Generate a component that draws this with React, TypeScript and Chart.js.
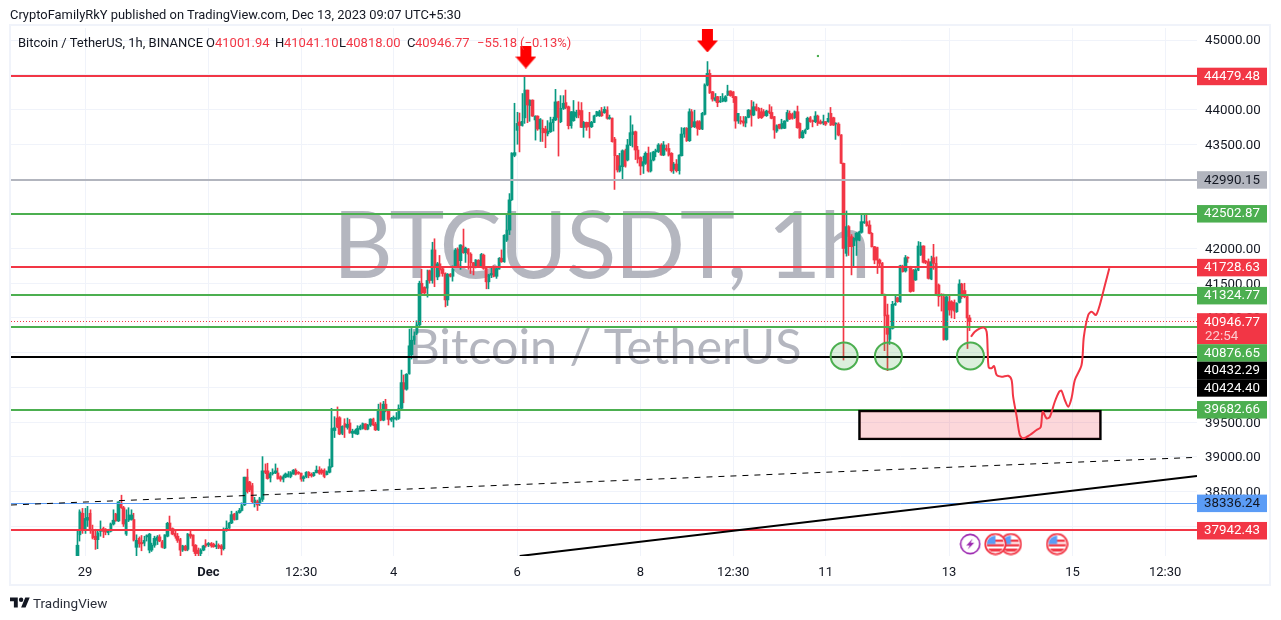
import { useEffect, useRef } from "react";
import { Chart, registerables } from "chart.js";

Chart.register(...registerables);

// bar index 0 is 29 Nov 00:00, one bar per hour
const firstBar = -3;
const UP = "#089981";
const DOWN = "#f23645";

// [open, high, low, close]
const candlesNov: number[][] = [
  [37580,37950,37560,37730],[37880,38240,37790,38210],[38190,38260,37900,37950],[37950,38260,37900,38115],
  [38090,38290,38000,38130],[38190,38240,37900,37950],[37950,38020,37820,37840],[37860,37960,37670,37810],
  [37810,37950,37680,37910],[37930,38080,37860,37950],[37970,37990,37840,37930],[37960,37970,37880,37920],
  [37910,37960,37880,37950],[37930,38050,37920,38035],[38035,38240,38020,38090],[38180,38190,38075,38080],
  [38080,38355,38070,38355],[38320,38450,38260,38270],[38270,38290,38000,38035],[37890,38240,37870,38100],
  [38090,38270,38070,38165],[38100,38240,38090,38165],[38100,38190,37790,37805],[37700,37880,37575,37800],
  [37830,37850,37700,37750],[37770,37870,37650,37750],[37760,37860,37720,37800],[37850,37880,37790,37870],
  [37660,37900,37620,37890],[37660,37760,37640,37730],[37730,37860,37700,37830],[37800,37870,37740,37850],
  [37850,37880,37780,37790],[37780,37800,37690,37700],[37690,37880,37680,37880],[37860,38060,37850,38045],
  [38050,38150,37950,37960],[37970,37980,37880,37890],[37900,37940,37830,37860],[37860,37900,37770,37800],
  [37810,37830,37560,37660],[37660,37730,37640,37720],[37715,37730,37650,37660],[37670,37900,37650,37890],
  [37890,37950,37830,37860],[37875,37880,37640,37720],[37730,37740,37570,37610],[37660,37690,37570,37610],
  [37610,37680,37570,37660],[37660,37730,37650,37720],[37750,37810,37700,37720],
];
const candlesDec1: number[][] = [
  [37735,37770,37710,37755],[37755,37770,37700,37720],[37745,37760,37700,37710],[37710,37790,37680,37730],
  [37730,37750,37680,37700],[37720,37740,37590,37680],[37680,37980,37660,37950],[37950,38080,37930,37975],
  [37980,38060,37970,38050],[38050,38220,38040,38170],[38180,38190,38090,38100],[38100,38220,38095,38200],
  [38200,38260,38190,38230],[38230,38340,38220,38300],[38310,38710,38300,38710],[38710,38825,38480,38500],
  [38640,38650,38500,38525],[38587,38620,38340,38357],[38330,38420,38280,38380],[38357,38380,38230,38310],
  [38330,38420,38300,38400],[38390,39005,38360,38800],[38800,38900,38760,38780],[38800,38910,38680,38690],
  [38700,38780,38640,38760],[38760,38830,38740,38775],[38770,38900,38760,38800],[38770,38840,38680,38690],
  [38715,38730,38650,38680],[38680,38740,38640,38715],[38710,38770,38700,38755],[38715,38790,38710,38755],
  [38720,38790,38700,38775],[38755,38820,38750,38810],[38810,38830,38740,38750],[38775,38790,38750,38765],
  [38765,38770,38650,38680],[38690,38730,38650,38715],[38715,38790,38700,38780],[38780,38790,38700,38730],
  [38750,38770,38710,38730],[38730,38780,38720,38775],[38775,38870,38770,38810],[38810,38860,38750,38765],
  [38810,38830,38750,38770],[38810,38830,38700,38720],[38745,38800,38740,38790],[38780,38970,38770,38860],
  [38860,39700,38850,39410],[39380,39580,39280,39420],[39560,39720,39420,39430],[39565,39580,39320,39330],
  [39340,39450,39320,39440],[39480,39550,39280,39430],[39425,39560,39400,39470],[39490,39540,39340,39350],
  [39340,39400,39280,39370],[39340,39400,39330,39380],[39330,39450,39320,39410],[39400,39460,39390,39440],
  [39410,39490,39400,39480],[39475,39480,39390,39400],[39400,39470,39390,39460],[39460,39550,39440,39545],
  [39545,39560,39450,39460],[39475,39500,39380,39390],[39390,39760,39380,39665],[39665,39780,39520,39530],
  [39530,39800,39520,39760],[39760,39830,39650,39665],[39665,39680,39460,39540],[39530,39570,39510,39555],
];
const candlesDec4: number[][] = [
  [39545,39590,39430,39565],[39545,39640,39530,39565],[39555,39750,39540,39700],[39700,40250,39690,40070],
  [40070,40180,39780,39975],[39975,40200,39960,40190],[40200,40840,40190,40600],[40470,40850,40410,40680],
  [40680,40800,40620,40740],[40780,40960,40760,40900],[40900,41530,40880,41500],[41500,41700,41350,41360],
  [41440,41450,41340,41360],[41430,41690,41300,41540],[41680,41690,41500,41540],[41540,42090,41500,41980],
  [41980,42140,41450,41740],[41590,41800,41550,41780],[41780,41900,41600,41690],[41710,41720,41600,41640],
  [41640,41650,41160,41260],[41260,41640,41180,41630],[41630,41640,41590,41600],[41600,41750,41530,41700],
  [41740,42000,41730,41980],[41990,42010,41730,41740],[41825,42055,41700,42050],[42035,42280,41930,41940],
  [41940,42020,41800,42005],[41990,42000,41700,41920],[41920,41940,41640,41795],[41795,41800,41620,41740],
  [41740,41840,41720,41835],[41830,41840,41725,41735],[41750,41930,41740,41915],[41905,41920,41700,41715],
  [41715,41725,41420,41520],[41520,41630,41420,41620],[41620,41720,41580,41640],[41735,41750,41590,41600],
  [41600,41720,41570,41710],[41710,41870,41700,41860],[41860,41980,41800,41810],[41810,42200,41800,42190],
  [42120,42500,42100,42265],[42265,42790,42200,42700],[42700,43380,42690,43369],[43340,44090,43320,43380],
  [43700,43960,43500,43800],[43820,43950,43390,43770],[43770,44230,43760,43830],[43880,44480,43800,44280],
  [44280,44280,43810,44065],[44055,44140,43830,44135],[44135,44140,43900,43905],[43850,43910,43560,43905],
  [43905,43910,43700,43720],[43720,43870,43540,43860],[43730,43850,43540,43665],[43720,43760,43450,43665],
  [43650,43840,43620,43690],[43680,43890,43670,43810],[43810,43890,43690,43860],[43850,44290,43840,44110],
  [44110,44120,43330,43885],[43825,44200,43810,44017],[44017,44200,44000,44090],[44100,44280,44010,44030],
  [44040,44050,43720,43767],[43767,43970,43730,43968],[43840,44130,43830,43968],[43900,43990,43880,43960],
];
const candlesDec7: number[][] = [
  [43992,44110,43880,43920],[43985,44100,43740,43743],[43743,43830,43600,43815],[43815,43820,43700,43745],
  [43815,43960,43590,43752],[43752,43830,43740,43815],[43815,43920,43810,43910],[43910,43975,43900,43968],
  [43910,43990,43900,43968],[43968,44030,43900,43910],[43955,44040,43945,44002],[43992,44040,43860,43873],
  [43870,43920,43860,43878],[43873,43880,43530,43537],[43575,43600,42850,43335],[43335,43340,43100,43130],
  [43115,43370,43100,43190],[43177,43420,42980,43407],[43407,43430,43170,43187],[43273,43570,43260,43490],
  [43490,43910,43480,43667],[43640,43780,43460,43680],[43680,43690,43280,43417],[43417,43470,43230,43287],
  [43310,43320,43060,43187],[43187,43330,43080,43250],[43225,43390,43210,43369],[43369,43460,43100,43115],
  [43115,43380,43100,43273],[43273,43400,43260,43390],[43390,43430,43320,43410],[43395,43510,43380,43490],
  [43490,43510,43340,43345],[43345,43540,43335,43490],[43440,43490,43400,43420],[43440,43510,43330,43345],
  [43369,43380,43100,43120],[43140,43240,43080,43215],[43215,43280,43100,43120],[43120,43350,43070,43345],
  [43335,43740,43330,43647],[43647,43740,43600,43730],[43730,43740,43540,43551],[43551,44010,43540,43968],
  [43968,44000,43740,43752],[43752,43990,43740,43825],[43825,43840,43630,43730],[43825,43840,43710,43720],
  [43720,43960,43710,43945],[43930,44370,43920,44352],[44352,44690,44340,44520],[44520,44570,44230,44242],
  [44256,44260,44120,44150],[44130,44230,44120,44170],[44185,44190,44040,44098],[44112,44190,44100,44125],
  [44120,44230,44110,44160],[44120,44200,44110,44185],[44208,44350,44200,44266],[44266,44270,44190,44200],
  [44250,44260,44100,44170],[44185,44190,43730,43834],[43835,43945,43800,43945],[43840,43900,43790,43825],
  [43834,43900,43760,43805],[43805,43900,43750,43887],[43887,44000,43880,43992],[43992,44130,43760,43920],
  [43920,44110,43910,44040],[44040,44080,43980,43992],[44016,44030,43870,43882],[43968,44020,43870,43882],
];
const candlesDec10: number[][] = [
  [43968,44000,43900,43912],[43912,43990,43900,43978],[43978,44070,43940,43958],[43958,44040,43865,43873],
  [43897,43900,43585,43705],[43690,43780,43670,43767],[43786,43790,43720,43730],[43730,43860,43720,43800],
  [43730,43840,43725,43834],[43834,43990,43830,43958],[43944,43980,43855,43863],[43930,43950,43860,43873],
  [43882,43980,43870,43968],[43968,44050,43730,43738],[43800,43810,43585,43595],[43595,43700,43585,43680],
  [43670,43720,43650,43705],[43720,43890,43710,43873],[43882,43900,43815,43825],[43843,43850,43750,43825],
  [43825,43970,43810,43907],[43907,43920,43770,43800],[43825,43850,43790,43800],[43805,43920,43780,43825],
  [43825,43830,43770,43790],[43825,43950,43815,43873],[43945,44030,43770,43777],[43882,43890,43770,43777],
  [43790,43810,43570,43800],[43790,43810,43620,43633],[43633,43640,43220,43225],[43225,43230,40395,42000],
  [41930,42540,41890,42315],[42315,42330,41900,42026],[42170,42200,41620,42026],[42040,42160,41740,42146],
  [42120,42230,41900,42220],[42120,42250,42110,42240],[42233,42500,42220,42386],[42370,42490,42360,42386],
  [42386,42490,42320,42330],[42338,42400,42210,42218],[42218,42230,42020,42026],[42026,42030,41780,41834],
  [42012,42020,41640,41834],[41834,41850,41730,41786],[41786,41800,41330,41340],[41340,41345,40530,41030],
  [41043,41200,40242,40765],[40693,40860,40620,40850],[40850,41240,40840,41197],[41190,41340,41180,41210],
  [41290,41300,41225,41235],[41235,41760,41225,41753],[41714,41760,41660,41666],[41676,41900,41660,41868],
  [41868,41880,41800,41860],[41738,41745,41370,41380],[41690,41700,41380,41390],[41547,41710,41540,41690],
  [41690,42100,41680,42036],[41906,42090,41900,42036],[42036,42040,41790,41800],[41820,41830,41780,41800],
  [41810,41850,41560,41570],[41560,41890,41550,41810],[41868,42060,41700,41786],[41786,41880,41320,41331],
  [41475,41490,41170,41307],[41340,41350,41100,41320],[41306,41345,40680,40690],[40690,41340,40680,41306],
  [41235,41340,41040,41115],[41235,41250,41000,41115],[41225,41260,40990,41100],[41090,41220,41080,41210],
  [41225,41550,41215,41490],[41490,41500,41280,41306],[41395,41500,41290,41306],[41306,41320,40560,41000],
  [41001.94,41041.1,40818,40946.77],
];
const candles = [...candlesNov, ...candlesDec1, ...candlesDec4, ...candlesDec7, ...candlesDec10];

const priceTicks = [45000, 44500, 44000, 43500, 43000, 42500, 42000, 41500, 41000, 40500, 40000, 39500, 39000, 38500, 38000];
const priceMin = 37575;
const priceMax = 45173;
const barMin = -28.8;
const barMax = 432.4;
const timeTicks = [0, 48, 84, 120, 168, 216, 252, 288, 336, 384, 420];
const timeLabels = ["29", "Dec", "12:30", "4", "6", "8", "12:30", "11", "13", "15", "12:30"];

const levels = [
  { price: 44479.48, color: "#f23645" },
  { price: 42990.15, color: "#b2b5be" },
  { price: 42502.87, color: "#4caf50" },
  { price: 41728.63, color: "#f23645" },
  { price: 41324.77, color: "#4caf50" },
  { price: 40876.65, color: "#4caf50" },
  { price: 40432.29, color: "#000000" },
  { price: 39682.66, color: "#4caf50" },
  { price: 37942.43, color: "#f23645" },
];
const supportLevel = 38336.24;
const lastPrice = 40946.77;

// axis tags, top to bottom. extra is the countdown line
const tags = [
  { price: 44479.48, bg: "#f23645", fg: "#ffffff" },
  { price: 42990.15, bg: "#b2b5be", fg: "#131722" },
  { price: 42502.87, bg: "#4caf50", fg: "#ffffff" },
  { price: 41728.63, bg: "#f23645", fg: "#ffffff" },
  { price: 41324.77, bg: "#4caf50", fg: "#ffffff" },
  { price: 40946.77, bg: "#f23645", fg: "#ffffff", extra: "22:54" },
  { price: 40876.65, bg: "#4caf50", fg: "#ffffff" },
  { price: 40432.29, bg: "#000000", fg: "#ffffff" },
  { price: 40424.4, bg: "#000000", fg: "#ffffff" },
  { price: 39682.66, bg: "#4caf50", fg: "#ffffff" },
  { price: 38336.24, bg: "#5b9cf6", fg: "#131722" },
  { price: 37942.43, bg: "#f23645", fg: "#ffffff" },
];

const dashedTrend = [{ x: -28.8, y: 38309 }, { x: 432.4, y: 38995 }];
const solidTrend = [{ x: 169, y: 37575 }, { x: 432.4, y: 38726 }];
const sketchX = [344.5,346,348,349.6,350.6,351,351.4,352.5,353.5,354.5,356.4,359,360.3,360.9,362.3,363.5,364.8,367.4,370,371.6,372.4,373.9,375.2,377.1,378.8,379.7,381,382.3,383.6,384.9,387.5,388.4,390.1,391.4,393.1,394.6,396.6,398.3];
const sketchY = [40730,40802,40851,40860,40802,40539,40290,40276,40309,40179,40155,40169,40107,39867,39579,39316,39268,39316,39388,39427,39651,39556,39579,39795,39939,39953,39820,39723,39844,40107,40323,40730,41043,41090,41043,41187,41474,41715];

const zoneBox = { from: 301, to: 395, low: 39244, high: 39676 };
const touches = [{ x: 295.2, y: 40453 }, { x: 312.4, y: 40453 }, { x: 344.3, y: 40453 }];
const peakArrows = [{ x: 171.4, y: 44755 }, { x: 242, y: 44986 }];
const strayDot = [{ x: 285, y: 44770 }];
// last one first, the left flag sits on top of its neighbour
const eventMarks = [{ x: 378, y: 37747 }, { x: 360, y: 37747 }, { x: 354, y: 37747 }, { x: 344.2, y: 37747 }];

const legendParts = [
  { left: 18, text: "Bitcoin / TetherUS, 1h, BINANCE", red: false },
  { left: 206, text: "O", red: false },
  { left: 215, text: "41001.94", red: true },
  { left: 275, text: "H", red: false },
  { left: 284, text: "41041.10", red: true },
  { left: 339, text: "L", red: false },
  { left: 346, text: "40818.00", red: true },
  { left: 407, text: "C", red: false },
  { left: 415, text: "40946.77", red: true },
  { left: 477, text: "−55.18", red: true },
  { left: 520, text: "(−0.13%)", red: true },
];

const FONT = "Roboto, sans-serif";

function makeArrow() {
  const c = document.createElement("canvas");
  c.width = 21;
  c.height = 23;
  const g = c.getContext("2d")!;
  g.fillStyle = "#ff0000";
  g.fillRect(5, 0, 11, 11);
  g.beginPath();
  g.moveTo(0, 11);
  g.lineTo(21, 11);
  g.lineTo(10.5, 23);
  g.closePath();
  g.fill();
  return c;
}

function makeBolt() {
  const c = document.createElement("canvas");
  c.width = 22;
  c.height = 22;
  const g = c.getContext("2d")!;
  g.fillStyle = "#fff";
  g.strokeStyle = "#9c27b0";
  g.lineWidth = 1.6;
  g.beginPath();
  g.arc(11, 11, 9.6, 0, Math.PI * 2);
  g.fill();
  g.stroke();
  g.fillStyle = "#9c27b0";
  g.beginPath();
  g.moveTo(13.5, 5.5);
  g.lineTo(7, 12.5);
  g.lineTo(10.5, 12.5);
  g.lineTo(8.5, 16.5);
  g.lineTo(15, 9.8);
  g.lineTo(11.5, 9.8);
  g.closePath();
  g.fill();
  return c;
}

function makeFlag() {
  const c = document.createElement("canvas");
  c.width = 23;
  c.height = 23;
  const g = c.getContext("2d")!;
  g.fillStyle = "#fff";
  g.beginPath();
  g.arc(11.5, 11.5, 10.2, 0, Math.PI * 2);
  g.fill();
  g.save();
  g.beginPath();
  g.arc(11.5, 11.5, 8.6, 0, Math.PI * 2);
  g.clip();
  g.fillStyle = "#f23645";
  g.fillRect(0, 7, 23, 2.4);
  g.fillRect(0, 11.5, 23, 2.4);
  g.fillRect(0, 16, 23, 3);
  g.fillStyle = "#5b9cf6";
  g.fillRect(0, 0, 11.5, 11.5);
  g.restore();
  g.strokeStyle = "#f23645";
  g.lineWidth = 1.8;
  g.beginPath();
  g.arc(11.5, 11.5, 10.2, 0, Math.PI * 2);
  g.stroke();
  return c;
}

const watermarkPlugin = {
  id: "watermark",
  beforeDatasetsDraw(chart: any) {
    const { ctx } = chart;
    ctx.save();
    ctx.fillStyle = "rgba(178, 181, 190, 0.98)";
    ctx.textAlign = "center";
    ctx.textBaseline = "middle";
    ctx.font = `93px Lato, sans-serif`;
    ctx.letterSpacing = "-2px";
    ctx.fillText("BTCUSDT, 1h", 601, 248);
    ctx.font = `48.5px Lato, sans-serif`;
    ctx.letterSpacing = "0px";
    ctx.fillText("Bitcoin / TetherUS", 605, 348);
    ctx.restore();
  },
};

// snap bars and flat levels on whole pixels, the way the original looks
const snapPlugin = {
  id: "snap",
  afterDatasetsUpdate(chart: any) {
    chart.getDatasetMeta(0).data.forEach((el: any) => {
      el.x = Math.floor(el.x) + 0.5;
    });
    chart.getDatasetMeta(1).data.forEach((el: any) => {
      const left = Math.round(el.x - 1.25);
      const right = Math.round(el.x + 1.25);
      el.width = right - left;
      el.x = (left + right) / 2;
    });
    chart.data.datasets.forEach((ds: any, idx: number) => {
      if (!ds.flat) return;
      chart.getDatasetMeta(idx).data.forEach((pt: any) => {
        pt.y = ds.borderWidth === 1 ? Math.floor(pt.y) + 0.5 : Math.round(pt.y);
      });
    });
  },
};

const tagsPlugin = {
  id: "tags",
  afterDraw(chart: any) {
    const { ctx, chartArea, scales } = chart;
    const left = chartArea.right;
    const w = 70;
    let prevBottom = 0;
    ctx.save();
    ctx.font = `13.3px ${FONT}`;
    ctx.textAlign = "center";
    ctx.textBaseline = "middle";
    tags.forEach((t: any) => {
      const h = t.extra ? 31 : 17.5;
      const mid = scales.y.getPixelForValue(t.price);
      const top = Math.max(mid - 8.5, prevBottom);
      prevBottom = top + h;
      ctx.fillStyle = t.bg;
      ctx.fillRect(left, top, w, h);
      ctx.fillStyle = t.fg;
      ctx.fillText(t.price.toFixed(2), left + w / 2, top + 9);
      if (t.extra) {
        ctx.fillStyle = "rgba(255,255,255,0.75)";
        ctx.textAlign = "left";
        ctx.fillText(t.extra, left + 8, top + 23);
        ctx.textAlign = "center";
      }
    });
    ctx.restore();
  },
};

const flatLine = (price: number) => [{ x: barMin, y: price }, { x: barMax, y: price }];

export default function App() {
  const ref = useRef<HTMLCanvasElement | null>(null);

  useEffect(() => {
    if (!ref.current) return;
    document.body.style.margin = "0";

    const arrow = makeArrow();
    const bolt = makeBolt();
    const flag = makeFlag();
    const colors = candles.map((c) => (c[3] >= c[0] ? UP : DOWN));

    const chart = new Chart(ref.current, {
      type: "bar",
      data: {
        datasets: [
          {
            data: candles.map((c, k) => ({ x: firstBar + k, y: [c[2], c[1]] })),
            backgroundColor: colors,
            barThickness: 1,
            grouped: false,
            order: 50,
          },
          {
            data: candles.map((c, k) => ({ x: firstBar + k, y: [Math.min(c[0], c[3]), Math.max(c[0], c[3])] })),
            backgroundColor: colors,
            barThickness: 2,
            minBarLength: 1,
            grouped: false,
            order: 49,
          },
          {
            data: [{ x: (zoneBox.from + zoneBox.to) / 2, y: [zoneBox.low, zoneBox.high] }],
            backgroundColor: "rgba(242, 54, 69, 0.2)",
            borderColor: "#000000",
            borderWidth: 2,
            borderSkipped: false,
            barThickness: 243,
            grouped: false,
            order: 20,
          },
          ...levels.map((l) => ({
            type: "line",
            flat: true,
            data: flatLine(l.price),
            borderColor: l.color,
            borderWidth: 2,
            pointRadius: 0,
            order: 30,
          })),
          {
            type: "line",
            flat: true,
            data: flatLine(supportLevel),
            borderColor: "#5b9cf6",
            borderWidth: 1,
            pointRadius: 0,
            order: 30,
          },
          {
            type: "line",
            flat: true,
            data: flatLine(lastPrice),
            borderColor: "#f23645",
            borderWidth: 1,
            borderDash: [1, 2],
            pointRadius: 0,
            order: 30,
          },
          {
            type: "line",
            data: dashedTrend,
            borderColor: "#000000",
            borderWidth: 1,
            borderDash: [6, 6],
            pointRadius: 0,
            order: 25,
          },
          {
            type: "line",
            data: solidTrend,
            borderColor: "#000000",
            borderWidth: 2,
            pointRadius: 0,
            order: 25,
          },
          {
            type: "line",
            data: sketchX.map((x, k) => ({ x, y: sketchY[k] })),
            borderColor: "#f23645",
            borderWidth: 2,
            tension: 0.3,
            pointRadius: 0,
            order: 10,
          },
          {
            type: "scatter",
            data: touches,
            backgroundColor: "rgba(76, 175, 80, 0.2)",
            borderColor: "#4caf50",
            borderWidth: 2,
            pointRadius: 13.5,
            order: 5,
          },
          {
            type: "scatter",
            data: peakArrows,
            pointStyle: arrow,
            order: 5,
          },
          {
            type: "scatter",
            data: strayDot,
            pointStyle: "rect",
            pointRadius: 1.5,
            backgroundColor: "#4caf50",
            borderWidth: 0,
            order: 5,
          },
          {
            type: "scatter",
            data: eventMarks,
            pointStyle: [flag, flag, flag, bolt],
            order: 4,
          },
        ] as any,
      },
      options: {
        animation: false,
        responsive: false,
        layout: { autoPadding: false, padding: { left: 11, top: 28, right: 12, bottom: 35 } },
        plugins: { legend: { display: false }, tooltip: { enabled: false } },
        scales: {
          x: {
            type: "linear",
            min: barMin,
            max: barMax,
            offset: false,
            grid: { color: "#f0f3fa", drawTicks: false, offset: false },
            border: { display: false },
            afterBuildTicks: (axis: any) => {
              axis.ticks = timeTicks.map((value) => ({ value }));
            },
            afterFit: (axis: any) => {
              axis.height = 29;
            },
            ticks: {
              autoSkip: false,
              maxRotation: 0,
              padding: 9,
              color: "#131722",
              font: (c: any) => ({
                family: FONT,
                size: 13,
                weight: timeLabels[timeTicks.indexOf(c.tick?.value)] === "Dec" ? "bold" : "normal",
              }),
              callback: (v: any) => timeLabels[timeTicks.indexOf(Number(v))],
            },
          },
          y: {
            position: "right",
            min: priceMin,
            max: priceMax,
            grid: { color: "#f0f3fa", drawTicks: false },
            border: { display: false },
            afterBuildTicks: (axis: any) => {
              axis.ticks = priceTicks.map((value) => ({ value }));
            },
            afterFit: (axis: any) => {
              axis.width = 72;
            },
            ticks: {
              padding: 8,
              labelOffset: 1,
              color: "#131722",
              font: { family: FONT, size: 13.3 },
              callback: (v: any) => Number(v).toFixed(2),
            },
          },
        },
      } as any,
      plugins: [watermarkPlugin, snapPlugin, tagsPlugin],
    });

    return () => chart.destroy();
  }, []);

  return (
    <div style={{ position: "relative", width: 1281, height: 620, background: "#fff", overflow: "hidden", fontFamily: FONT, color: "#131722" }}>
      <canvas ref={ref} width={1281} height={620} style={{ position: "absolute", left: 0, top: 0 }} />
      <div style={{ position: "absolute", left: 9, top: 24, width: 1258, height: 558, border: "2px solid #f0f3fa", pointerEvents: "none" }} />
      <div style={{ position: "absolute", left: 10, top: 7, fontSize: 12.9, lineHeight: "16px", whiteSpace: "nowrap" }}>
        CryptoFamilyRkY published on TradingView.com, Dec 13, 2023 09:07 UTC+5:30
      </div>
      {legendParts.map((p) => (
        <span
          key={p.left}
          style={{ position: "absolute", left: p.left, top: 35, fontSize: 13, lineHeight: "16px", whiteSpace: "nowrap", color: p.red ? "#f23645" : "#131722" }}
        >
          {p.text}
        </span>
      ))}
      <svg width="20" height="16" viewBox="0 0 36 28" style={{ position: "absolute", left: 10, top: 595 }}>
        <path d="M14 22H7V11H0V4h14v18zM28 22h-8l7.5-18h8L28 22z" fill="#131722" />
        <circle cx="20" cy="8" r="4" fill="#131722" />
      </svg>
      <div style={{ position: "absolute", left: 33, top: 595, fontSize: 13.5, lineHeight: "17px", color: "#2a2e39" }}>TradingView</div>
    </div>
  );
}
